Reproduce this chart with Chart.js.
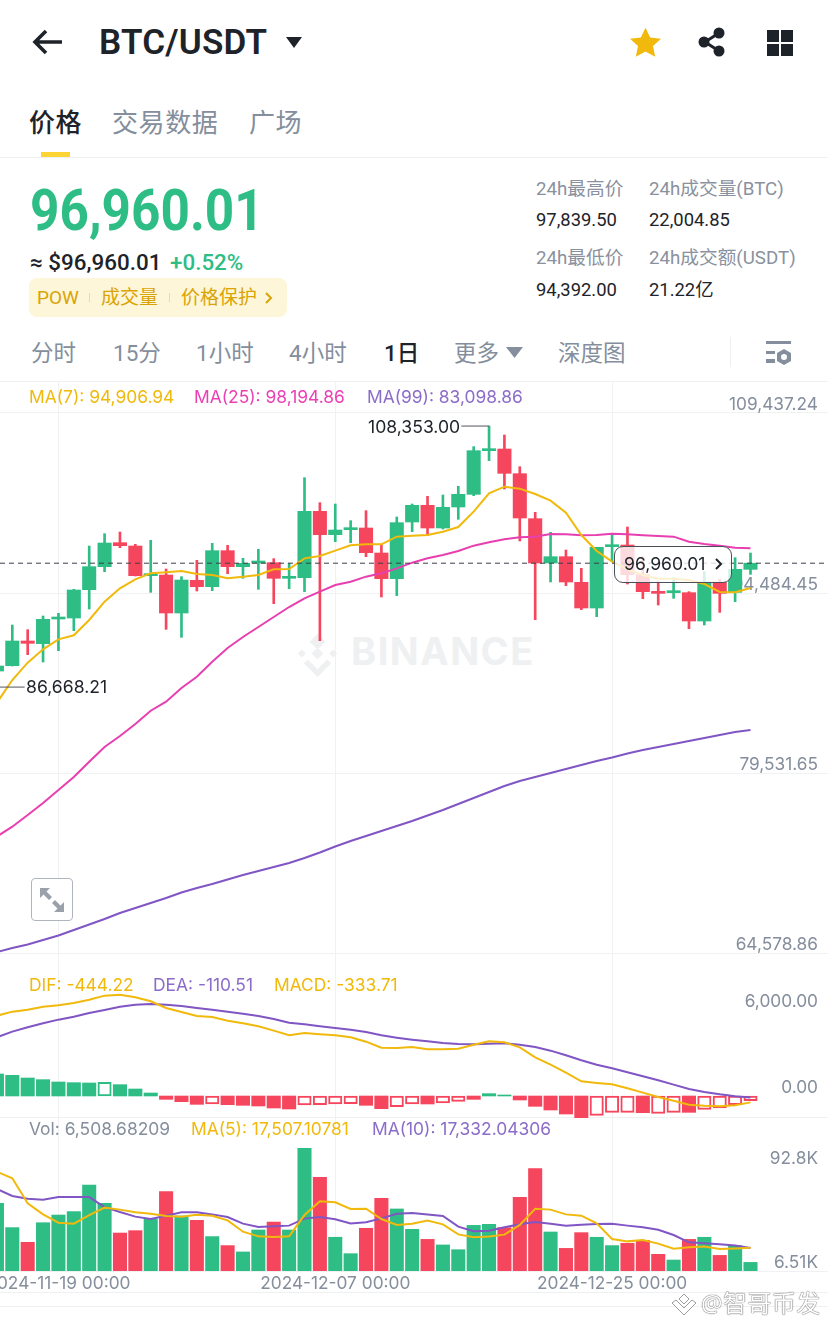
<!DOCTYPE html>
<html lang="zh">
<head>
<meta charset="utf-8">
<title>BTC/USDT</title>
<script src="https://cdn.jsdelivr.net/npm/chart.js@4"></script>
<style>
    html, body { margin: 0; padding: 0; background: #fff; }
    #page { position: relative; width: 828px; height: 1326px; overflow: hidden; font-family: Inter, "Noto Sans CJK SC", sans-serif; color: #1e2329; }
    #page > * { position: absolute; white-space: nowrap; }
    canvas { left: 0; z-index: 2; }
    .cjk { font-family: "Noto Sans", "Noto Sans CJK SC", sans-serif; }
    .rule { left: 0; width: 828px; height: 1px; background: #eff0f2; }
    .tab { font-family: "Noto Sans CJK SC", sans-serif; font-size: 26px; line-height: 34px; top: 104px; color: #848e9c; letter-spacing: 0.6px; }
    .stat { font-family: Roboto, "Noto Sans CJK SC", sans-serif; font-size: 18.7px; line-height: 24px; color: #8a919e; }
    .val { font-family: Roboto, "Noto Sans CJK SC", sans-serif; font-size: 18.4px; line-height: 24px; color: #1e2329; }
    .period { font-family: Roboto, "Noto Sans CJK SC", sans-serif; font-size: 22.5px; line-height: 30px; top: 338px; color: #848e9c; }
    .pill { font-family: Roboto, "Noto Sans CJK SC", sans-serif; font-size: 19px; line-height: 24px; top: 286px; color: #d9a406; }
    .legend { font-size: 17.4px; line-height: 22px; z-index: 3; }
    .mark { font-size: 17.6px; line-height: 22px; z-index: 3; color: #1e2329; }
</style>
</head>
<body>
<div id="page">
    <!-- header -->
    <svg style="left:32px;top:28px" width="32" height="28" viewBox="0 0 32 28"><path d="M30 14H4M14 3L3 14l11 11" fill="none" stroke="#1e2329" stroke-width="3.6"/></svg>
    <div style="left:99px;top:21px;font:600 35px/44px Roboto,sans-serif;letter-spacing:.2px">BTC/USDT</div>
    <svg style="left:286px;top:37px" width="16" height="12"><path d="M0 0H16L8 11Z" fill="#1e2329"/></svg>
    <svg style="left:630px;top:27px" width="31" height="31" viewBox="0 0 24 23"><path d="M12 0l3.600 7.600 8.400 1-6.200 5.700 1.700 8.300L12 18.400l-7.500 4.200 1.700-8.300L0 8.600l8.400-1z" fill="#f0b90b"/></svg>
    <svg style="left:697px;top:27px" width="30" height="30" viewBox="0 0 30 30"><path d="M22 6L8 15l14 9" fill="none" stroke="#1e2329" stroke-width="3"/><circle cx="22" cy="6" r="5.500" fill="#1e2329"/><circle cx="7" cy="15" r="5.500" fill="#1e2329"/><circle cx="22" cy="24" r="5.500" fill="#1e2329"/></svg>
    <svg style="left:767px;top:30px" width="26" height="26"><path d="M0 0h12v12H0zM14 0h12v12H14zM0 14h12v12H0zM14 14h12v12H14z" fill="#1e2329"/></svg>

    <div class="tab" style="left:29px;color:#1e2329;font-weight:500">价格</div>
    <div class="tab" style="left:112px">交易数据</div>
    <div class="tab" style="left:249px">广场</div>
    <div style="left:41px;top:152px;width:29px;height:5px;background:#fcd535"></div>
    <div class="rule" style="top:157px"></div>

    <!-- price block -->
    <div style="left:30px;top:172px;font:700 58px/76px Roboto,sans-serif;color:#2ebd85;transform:scaleX(.885);transform-origin:left center">96,960.01</div>
    <div style="left:30px;top:248px;font:500 22.400px/28px Roboto,sans-serif">≈ $96,960.01</div>
    <div style="left:170px;top:248px;font:500 22.400px/28px Roboto,sans-serif;color:#2ebd85">+0.52%</div>
    <div style="left:29px;top:278px;width:258px;height:39px;border-radius:8px;background:#fef6d8"></div>
    <div class="pill" style="left:37px">POW</div>
    <div style="left:89px;top:293px;width:1px;height:9px;background:#eedd9f"></div>
    <div class="pill" style="left:101px">成交量</div>
    <div style="left:169px;top:293px;width:1px;height:9px;background:#eedd9f"></div>
    <div class="pill" style="left:181px">价格保护</div>
    <svg style="left:264px;top:292px" width="10" height="12"><path d="M2 1l5 5-5 5" fill="none" stroke="#d9a406" stroke-width="2"/></svg>

    <div class="stat" style="left:536px;top:177px">24h最高价</div>
    <div class="stat" style="left:649px;top:177px">24h成交量(BTC)</div>
    <div class="val" style="left:536px;top:208px">97,839.50</div>
    <div class="val" style="left:649px;top:208px">22,004.85</div>
    <div class="stat" style="left:536px;top:246px">24h最低价</div>
    <div class="stat" style="left:649px;top:246px">24h成交额(USDT)</div>
    <div class="val" style="left:536px;top:278px">94,392.00</div>
    <div class="val" style="left:649px;top:278px">21.22亿</div>

    <!-- period bar -->
    <div class="period" style="left:31px">分时</div>
    <div class="period" style="left:113px">15分</div>
    <div class="period" style="left:196px">1小时</div>
    <div class="period" style="left:289px">4小时</div>
    <div class="period" style="left:384px;color:#1e2329;font-weight:500">1日</div>
    <div class="period" style="left:454px">更多</div>
    <svg style="left:506px;top:347px" width="17" height="12"><path d="M0 0H17L8.500 11Z" fill="#848e9c"/></svg>
    <div class="period" style="left:558px">深度图</div>
    <div style="left:730px;top:337px;width:1px;height:30px;background:#eff0f2"></div>
    <svg style="left:766px;top:341px" width="26" height="26"><path d="M0 0h25v3H0zM0 10h9v3H0zM0 18h9v4H0z" fill="#848e9c"/><path d="M18 8l7 4v8l-7 4-7-4v-8z" fill="#848e9c"/><circle cx="18" cy="16" r="3" fill="#fff"/></svg>
    <div class="rule" style="top:381px"></div>

    <!-- watermark sits behind the charts -->
    <svg style="left:294px;top:630px;z-index:1" width="47" height="47" viewBox="0 0 48 48"><path d="M24 4l8 8-8 8-8-8zM8 20l4 4-4 4-4-4zM40 20l4 4-4 4-4-4zM24 18l6 6-6 6-6-6zM14 30l10 10 10-10 4 4-14 14-14-14z" fill="#eef0f1"/></svg>
    <div style="left:351px;top:627px;z-index:1;font:700 38px/48px Inter,sans-serif;color:#eef0f1;letter-spacing:1.5px">BINANCE</div>

    <canvas id="price-chart" width="828" height="589" style="top:381px"></canvas>
    <canvas id="macd-chart" width="828" height="148" style="top:970px"></canvas>
    <canvas id="volume-chart" width="828" height="175" style="top:1118px"></canvas>
    <div class="rule" style="top:1117px"></div>
    <div class="rule" style="top:1292px"></div>
    <div class="rule" style="top:1306px"></div>

    <!-- legends -->
    <div class="legend" style="left:29px;top:386px;color:#f0b90b">MA(7): 94,906.94</div>
    <div class="legend" style="left:194px;top:386px;color:#eb40b5">MA(25): 98,194.86</div>
    <div class="legend" style="left:367px;top:386px;color:#8b6cc9">MA(99): 83,098.86</div>
    <div class="legend" style="left:29px;top:974px;color:#f0b90b">DIF: -444.22</div>
    <div class="legend" style="left:153px;top:974px;color:#8b6cc9">DEA: -110.51</div>
    <div class="legend" style="left:274px;top:974px;color:#f0b90b">MACD: -333.71</div>
    <div class="legend" style="left:29px;top:1118px;color:#848e9c">Vol: 6,508.68209</div>
    <div class="legend" style="left:191px;top:1118px;color:#f0b90b">MA(5): 17,507.10781</div>
    <div class="legend" style="left:372px;top:1118px;color:#8b6cc9">MA(10): 17,332.04306</div>

    <div class="mark" style="left:368px;top:416px">108,353.00</div>
    <div class="mark" style="left:26px;top:676px">86,668.21</div>

    <!-- last price tag -->
    <div style="left:614px;top:546px;width:116px;height:35px;border:1.5px solid #4b4f57;border-radius:9px;background:rgba(255,255,255,.8);z-index:3"></div>
    <div class="mark" style="left:624px;top:553px">96,960.01</div>
    <svg style="left:714px;top:557px;z-index:3" width="10" height="14"><path d="M2 2l5 5-5 5" fill="none" stroke="#1e2329" stroke-width="2"/></svg>

    <!-- expand button -->
    <div style="left:31px;top:878px;width:40px;height:41px;border:1.5px solid #b0b5bd;border-radius:4px;background:#fff;z-index:3"></div>
    <svg style="left:38px;top:886px;z-index:4" width="28" height="28" viewBox="0 0 28 28"><path d="M2 2H12L8.500 5.500 14 11 11 14 5.500 8.500 2 12ZM26 26H16L19.500 22.500 14 17 17 14 22.500 19.500 26 16Z" fill="#9aa1ab"/></svg>

    <!-- repost watermark -->
    <svg style="left:671px;top:1293px;z-index:4" width="26" height="24" viewBox="0 0 26 24"><path d="M13 1l5 5-5 5-5-5zM1 10l4-3 8 8 8-8 4 3-12 12z" fill="#fff" stroke="#9b9b9b"/></svg>
    <div class="cjk" style="left:701px;top:1288px;font-size:24px;line-height:30px;color:#fff;text-shadow:0 0 1px #555,0 0 1px #555;z-index:4;letter-spacing:.4px">@智哥币发</div>
</div>

<script>
// Daily candles, 2024-11-15 to 2025-01-03
const opens = [88003, 88447, 90497, 90276, 92324, 92407, 94761, 96672, 98665, 98388,
    95924, 95979, 92823, 95536, 95010, 98001, 96672, 96976, 97004, 95703,
    95758, 101268, 99330, 99745, 99884, 97807, 95675, 100382, 101767, 99884,
    101628, 102680, 106308, 106446, 104397, 100659, 96976, 97502, 95370, 93238,
    98333, 98471, 96007, 94567, 94512, 94512, 92158, 95398, 94540, 96450];
const highs = [88503, 91826, 91438, 92574, 92795, 94789, 98388, 99413, 99551, 98527,
    98859, 96478, 95841, 97198, 98610, 98444, 97364, 98111, 97336, 96949,
    104065, 101988, 101877, 100493, 101323, 98527, 100797, 101877, 102514, 102625,
    103345, 106640, 108353, 107609, 104979, 101185, 99524, 98056, 96533, 98278,
    99302, 99967, 97502, 95425, 95758, 94595, 96256, 95619, 97419, 97807];
const lows = [87948, 88420, 89362, 88752, 89694, 91355, 93155, 96256, 98250, 95897,
    94540, 91466, 90801, 94651, 94678, 96090, 95703, 94789, 93598, 94844,
    94595, 90525, 98748, 98665, 97502, 94151, 94262, 99579, 99247, 99801,
    100604, 102570, 105477, 103123, 98804, 92269, 95398, 95094, 93100, 92519,
    97087, 95232, 94013, 93487, 94041, 91521, 91826, 92878, 93764, 96035];
const closes = [88420, 90497, 90303, 92296, 92463, 94733, 96672, 98637, 98416, 95924,
    96035, 92823, 95564, 95010, 98001, 96672, 96949, 97142, 95703, 95841,
    101268, 99330, 99718, 99911, 97835, 95675, 100327, 101767, 99884, 101600,
    102680, 106308, 106474, 104425, 100714, 96976, 97502, 95398, 93238, 98278,
    98471, 96007, 94595, 94456, 94651, 92158, 95398, 94456, 96450, 96960.01];

const ma7 = [85374, 87257, 88697, 89805, 90635, 90968, 92241, 93764, 94872, 95619,
    96118, 96201, 96312, 96062, 95979, 95703, 95841, 95979, 96450, 96478,
    97364, 97558, 98001, 98444, 98527, 98527, 99164, 99247, 99302, 99579,
    99967, 101240, 102763, 103317, 103151, 102708, 102154, 101157, 99302, 97973,
    97087, 96450, 95979, 95675, 95675, 95564, 95232, 94567, 94540, 94906.94];
const ma25 = [74257, 75071, 76043, 77040, 78120, 79200, 80470, 81692, 82605, 83602,
    84707, 85455, 86593, 87531, 88778, 89915, 90829, 91660, 92491, 93321,
    94041, 94595, 95149, 95425, 95841, 96118, 96533, 97004, 97364, 97641,
    97973, 98416, 98693, 98942, 99108, 99164, 99385, 99357, 99274, 99302,
    99413, 99357, 99274, 99219, 99164, 98748, 98554, 98416, 98250, 98194.86];
const ma99 = [64662, 64995, 65285, 65659, 66033, 66490, 66947, 67404, 67902, 68317,
    68733, 69148, 69605, 69979, 70311, 70685, 71059, 71391, 71723, 72055,
    72471, 72928, 73426, 73883, 74298, 74714, 75129, 75544, 76001, 76458,
    76957, 77455, 77953, 78452, 78867, 79200, 79532, 79864, 80196, 80529,
    80819, 81152, 81442, 81692, 81941, 82190, 82439, 82688, 82938, 83098.86];

const dif = [5606, 5885, 6024, 6234, 6327, 6490, 6722, 7001, 7071, 6885,
    6606, 6141, 5862, 5582, 5513, 5257, 5071, 4861, 4559, 4233,
    4396, 4303, 4233, 4094, 3791, 3373, 3349, 3419, 3256, 3256,
    3303, 3582, 3815, 3745, 3396, 2698, 2186, 1628, 1023, 907,
    814, 535, 233, -70, -326, -605, -675, -721, -651, -444.22];
const dea = [4094, 4489, 4792, 5071, 5327, 5536, 5792, 6001, 6234, 6373,
    6420, 6373, 6280, 6141, 6024, 5885, 5745, 5582, 5373, 5117,
    5001, 4861, 4745, 4629, 4466, 4233, 4071, 3931, 3815, 3698,
    3629, 3605, 3652, 3675, 3582, 3419, 3163, 2838, 2489, 2186,
    1931, 1651, 1372, 1093, 791, 488, 279, 116, -20, -110.51];
const macd = [1535, 1442, 1256, 1140, 977, 930, 907, 954, 791, 488,
    209, -233, -395, -582, -558, -605, -651, -698, -837, -907,
    -628, -605, -558, -535, -651, -884, -744, -558, -558, -488,
    -372, -233, 163, 70, -279, -721, -977, -1256, -1512, -1349,
    -1140, -1140, -1163, -1210, -1140, -1140, -930, -837, -605, -333.71];
// bars the app draws as outlines
const macdHollow = [7, 14, 20, 21, 22, 23, 26, 27, 29, 30, 39, 40, 41, 43, 44, 46, 47, 48, 49];

const volumes = [51200, 32800, 21700, 36500, 42300, 44900, 65000, 51200, 28700, 30500,
    39300, 60000, 41600, 38300, 26000, 19200, 14400, 31000, 37000, 31000,
    92800, 70800, 25500, 13100, 32300, 54900, 46900, 31500, 23900, 19700,
    16100, 34500, 35300, 32800, 55700, 77400, 29500, 17100, 29000, 25500,
    19200, 20900, 23200, 12600, 8300, 23900, 25500, 11800, 19200, 6508.68];
const volMa5 = [75100, 70100, 51200, 42800, 36500, 35800, 42300, 47900, 46400, 44400,
    43300, 41600, 41100, 42600, 41800, 38300, 29700, 26200, 25700, 26200,
    42300, 52700, 51900, 46900, 47100, 39300, 34800, 35800, 38100, 35300,
    27700, 25500, 26000, 27500, 34800, 47100, 46400, 42800, 41800, 36000,
    24200, 22400, 23400, 20700, 16900, 17900, 18600, 16600, 17100, 17507.11];
const volMa10 = [62000, 56700, 54700, 53900, 55900, 55900, 55900, 48400, 44600, 41100,
    39300, 41800, 44400, 44400, 42800, 40800, 35800, 33300, 33800, 34300,
    39600, 40800, 39100, 36000, 36800, 39800, 43300, 43800, 42800, 41600,
    33500, 30000, 30500, 33000, 35300, 37000, 35800, 34300, 35000, 35500,
    35800, 34300, 33000, 31200, 27200, 21700, 20900, 20200, 19200, 17332.04];

// Axis ticks
const dateTickIndexes = [4, 22, 40];
const dateTickLabels = ['2024-11-19 00:00', '2024-12-07 00:00', '2024-12-25 00:00'];
const priceTicks = [109437.24, 94484.45, 79531.65, 64578.86];
const priceTickLabels = ['109,437.24', '94,484.45', '79,531.65', '64,578.86'];
const macdTicks = [6000, 0];
const macdTickLabels = ['6,000.00', '0.00'];
const volumeTicks = [84700, 6510];
const volumeTickLabels = ['92.8K', '6.51K'];

// Highest and lowest markers
const highMarker = { from: 30.2, to: 32, value: 108353 };
const lowMarker = { from: 0.2, to: 1.8, value: 86668.21 };

const GREEN = '#2ebd85';
const RED = '#f6465d';
const YELLOW = '#f0b90b';
const PINK = '#e83fb0';
const PURPLE = '#8055c4';
const GRID = '#f0f1f3';
const TICK_COLOR = '#848e9c';
const TICK_FONT = { family: 'Inter', size: 17.3 };

// Same horizontal window for all three panels
const X_MIN = 0.2;
const X_MAX = 54.04;

const indexed = values => values.map((y, x) => ({ x, y }));
const candleColor = i => (closes[i] >= opens[i] ? GREEN : RED);

function lineDataset(values, color, order) {
    return {
        type: 'line',
        data: indexed(values),
        borderColor: color,
        borderWidth: 2,
        pointRadius: 0,
        tension: 0,
        order
    };
}

function markerDataset(marker) {
    return {
        type: 'line',
        data: [{ x: marker.from, y: marker.value }, { x: marker.to, y: marker.value }],
        borderColor: '#50555d',
        borderWidth: 1,
        pointRadius: 0,
        order: 1
    };
}

function xAxis(showLabels) {
    return {
        type: 'linear',
        min: X_MIN,
        max: X_MAX,
        offset: false,
        grid: { color: GRID, offset: false, drawTicks: false },
        border: { display: showLabels, color: GRID },
        ticks: {
            display: showLabels,
            autoSkip: false,
            maxRotation: 0,
            color: TICK_COLOR,
            font: TICK_FONT,
            padding: 2,
            callback: (value, i) => dateTickLabels[i]
        },
        afterBuildTicks: scale => { scale.ticks = dateTickIndexes.map(value => ({ value })); },
        afterFit: scale => {
            scale.height = showLabels ? 22 : 0;
            scale.paddingLeft = 0;
            scale.paddingRight = 0;
        }
    };
}

function yAxis(min, max, ticks, labels, labelOffset, drawGrid) {
    return {
        position: 'right',
        min,
        max,
        grid: { display: drawGrid, color: GRID, drawTicks: false },
        border: { display: false },
        ticks: {
            mirror: true,
            autoSkip: false,
            // mirrored labels on a right axis are pushed outward, so this pulls them back in
            padding: -10,
            labelOffset,
            color: TICK_COLOR,
            font: TICK_FONT,
            callback: (value, i) => labels[i]
        },
        afterBuildTicks: scale => { scale.ticks = ticks.map(value => ({ value })); },
        afterFit: scale => {
            scale.width = 0;
            scale.paddingTop = 0;
            scale.paddingBottom = 0;
        }
    };
}

function createChart(id, datasets, x, y) {
    return new Chart(document.getElementById(id), {
        type: 'bar',
        data: { datasets },
        options: {
            responsive: false,
            animation: false,
            events: [],
            layout: { padding: 0 },
            plugins: { legend: { display: false }, tooltip: { enabled: false } },
            datasets: { bar: { grouped: false } },
            scales: { x, y }
        }
    });
}

// Price panel: wick and body are two floating bar series
const lastPrice = closes[closes.length - 1];

createChart('price-chart', [
    {
        data: indexed(highs.map((high, i) => [lows[i], high])),
        backgroundColor: ctx => candleColor(ctx.dataIndex),
        barThickness: 2,
        order: 6
    },
    {
        data: indexed(opens.map((open, i) => [open, closes[i]])),
        backgroundColor: ctx => candleColor(ctx.dataIndex),
        barThickness: 13.4,
        minBarLength: 2,
        order: 5
    },
    lineDataset(ma99, PURPLE, 4),
    lineDataset(ma25, PINK, 3),
    lineDataset(ma7, YELLOW, 2),
    {
        type: 'line',
        data: [{ x: X_MIN, y: lastPrice }, { x: X_MAX, y: lastPrice }],
        borderColor: '#3a3f47',
        borderWidth: 1,
        borderDash: [5, 4],
        pointRadius: 0,
        order: 1
    },
    markerDataset(highMarker),
    markerDataset(lowMarker)
], xAxis(false), yAxis(63166.7, 112095.5, priceTicks, priceTickLabels, -8, true));

// MACD panel
createChart('macd-chart', [
    {
        data: indexed(macd),
        backgroundColor: ctx => (macdHollow.includes(ctx.dataIndex) ? '#fff' : (macd[ctx.dataIndex] >= 0 ? GREEN : RED)),
        borderColor: ctx => (macd[ctx.dataIndex] >= 0 ? GREEN : RED),
        borderWidth: ctx => (macdHollow.includes(ctx.dataIndex) ? 2 : 0),
        borderSkipped: false,
        barThickness: 13.4,
        order: 4
    },
    lineDataset(dea, PURPLE, 3),
    lineDataset(dif, YELLOW, 2)
], xAxis(false), yAxis(-1535, 8791, macdTicks, macdTickLabels, -8, false));

// Volume panel
createChart('volume-chart', [
    {
        data: indexed(volumes),
        backgroundColor: ctx => candleColor(ctx.dataIndex),
        barThickness: 13.4,
        order: 4
    },
    lineDataset(volMa10, PURPLE, 3),
    lineDataset(volMa5, YELLOW, 2)
], xAxis(true), yAxis(0, 115668, volumeTicks, volumeTickLabels, 0, false));
</script>
</body>
</html>
